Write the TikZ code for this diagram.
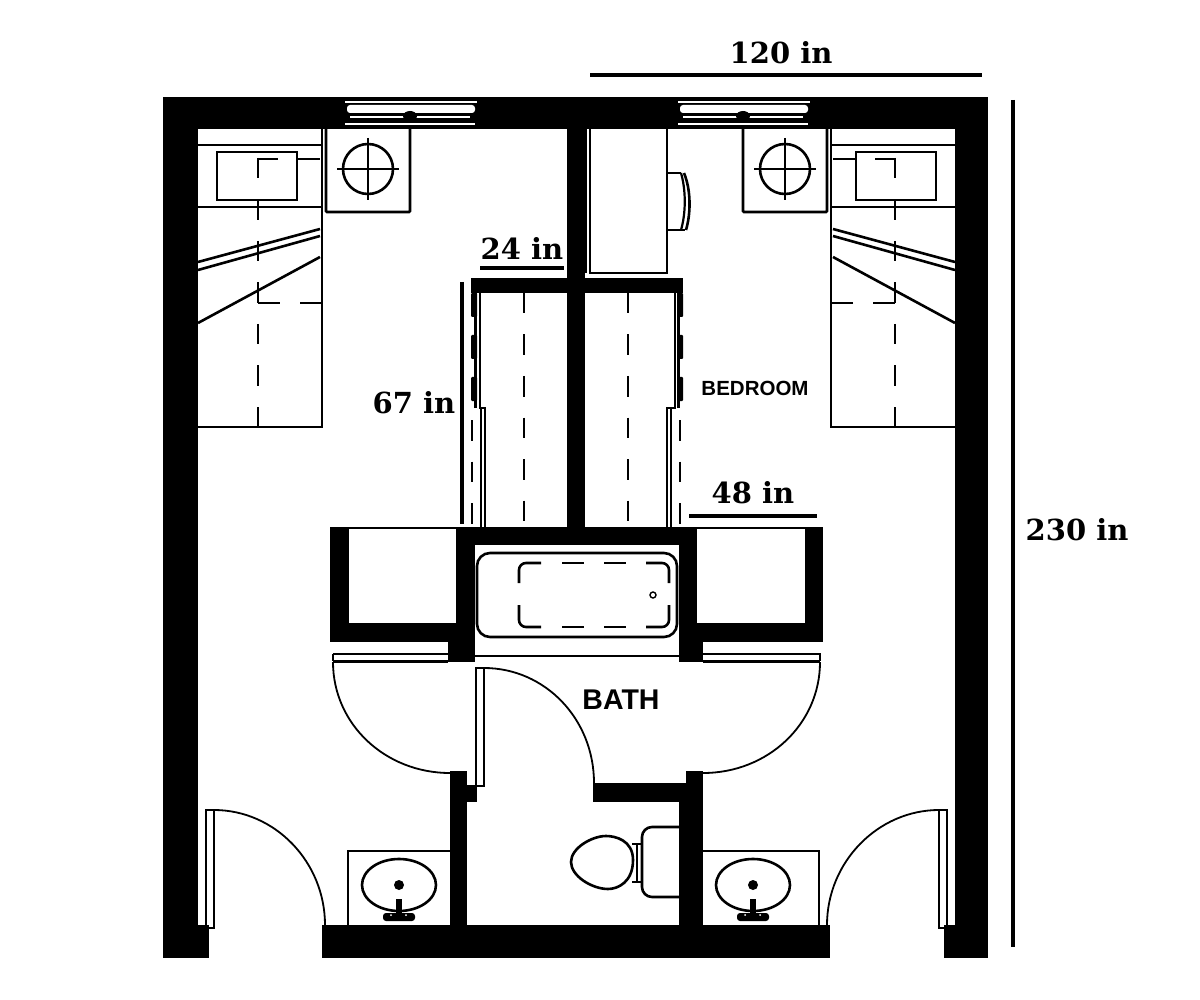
\documentclass[tikz,border=0pt]{standalone}
\usepackage{fontspec}
\setmainfont{Liberation Sans}
\newfontfamily\dimfont{DejaVu Serif}

\tikzset{
    wall/.style={fill=black,draw=none},
    thinline/.style={line width=2.2pt},
    fixture/.style={line width=2.6pt},
    doorline/.style={line width=1.8pt},
    hidden/.style={line width=2.6pt,dash pattern=on 20.5pt off 21pt},
    dimline/.style={line width=3.4pt},
    dimtext/.style={font=\dimfont\bfseries\fontsize{29}{29}\selectfont},
    roomtext/.style={font=\bfseries}
}

\begin{document}
\begin{tikzpicture}[x=1pt,y=-1pt]
    \useasboundingbox (0,0) rectangle (1200,1000);
    \fill[white] (0,0) rectangle (1200,1000);

    % outer walls
    \fill[wall] (163,97) rectangle (988,129);
    \fill[wall] (163,97) rectangle (198,958);
    \fill[wall] (163,925) rectangle (209,958);
    \fill[wall] (955,97) rectangle (988,958);
    \fill[wall] (944,925) rectangle (988,958);
    \fill[wall] (322,925) rectangle (830,958);

    % windows, left then right
    \foreach \w in {0,333}{
        \fill[white] (345+\w,101) rectangle (477+\w,103);
        \fill[white,rounded corners=3pt] (347+\w,105) rectangle (475+\w,113);
        \fill[white] (350+\w,116) rectangle (470+\w,118);
        \fill[white] (345+\w,123) rectangle (475+\w,125);
        \fill[black] (410+\w,116) ellipse (7 and 5);
    }

    % closet walls
    \fill[wall] (567,129) rectangle (585,527);
    \fill[wall] (471,278) rectangle (683,293);
    \foreach \y in {293,335,377}{
        \fill[wall,rounded corners=1pt] (471,\y) rectangle (477,\y+24);
        \fill[wall,rounded corners=1pt] (677,\y) rectangle (683,\y+24);
    }
    \draw[line width=3.5pt] (475.5,293)--(475.5,408);
    \draw[thinline] (480,293)--(480,408)--(485,408)--(485,527);
    \draw[thinline] (481,408)--(481,527);
    \draw[thinline] (675,293)--(675,408)--(667,408)--(667,527);
    \draw[thinline] (671,408)--(671,527);
    \draw[line width=3pt] (678.5,293)--(678.5,408);
    \draw[hidden] (472,420)--(472,527);
    \draw[hidden] (680,420)--(680,527);
    \draw[hidden] (524,293)--(524,527);
    \draw[hidden] (628,293)--(628,527);

    % bath block
    \fill[wall] (330,527) rectangle (823,642);
    \fill[white] (349,529) rectangle (456,623);
    \fill[white] (697,529) rectangle (805,623);
    \fill[white] (475,545) rectangle (679,662);
    \fill[wall] (448,642) rectangle (475,662);
    \fill[wall] (679,642) rectangle (703,662);
    \draw[thinline] (475,656)--(679,656);

    % tub
    \draw[fixture,rounded corners=13pt] (477,553) rectangle (677,637);
    \draw[fixture,rounded corners=7pt] (519,583)--(519,563)--(541,563);
    \draw[fixture,rounded corners=7pt] (646,563)--(669,563)--(669,583);
    \draw[fixture,rounded corners=7pt] (669,605)--(669,627)--(646,627);
    \draw[fixture,rounded corners=7pt] (541,627)--(519,627)--(519,605);
    \foreach \x in {562,604}{
        \draw[fixture] (\x,563)--(\x+22,563);
        \draw[fixture] (\x,627)--(\x+22,627);
    }
    \draw[line width=1.4pt] (653,595) circle (3);

    % door strips by the closets
    \draw[thinline] (333,654)--(448,654);
    \draw[line width=3pt] (333,661)--(448,661);
    \draw[thinline] (333,654)--(333,661);
    \draw[thinline] (703,654)--(820,654)--(820,661);
    \draw[line width=3pt] (703,661)--(820,661);

    % bath walls
    \fill[wall] (450,771) rectangle (467,925);
    \fill[wall] (467,785) rectangle (477,802);
    \fill[wall] (593,783) rectangle (687,802);
    \fill[wall] (686,771) rectangle (703,802);
    \fill[wall] (679,802) rectangle (703,925);

    % doors
    \draw[thinline] (476,668) rectangle (484,786);
    \draw[doorline] (484,668) .. controls (545,668) and (594,719) .. (594,783);
    \draw[doorline] (333,662) .. controls (333,724) and (385,773) .. (450,773);
    \draw[doorline] (820,662) .. controls (820,724) and (768,773) .. (703,773);
    \draw[thinline] (206,810) rectangle (214,928);
    \draw[doorline] (214,810) .. controls (275,810) and (325,862) .. (325,925);
    \draw[thinline] (939,810) rectangle (947,928);
    \draw[doorline] (939,810) .. controls (878,810) and (827,862) .. (827,925);

    % beds and nightstands, right side is the mirror of the left
    \foreach \s/\c in {1/0,-1/1153}{
        \begin{scope}[shift={(\c,0)},xscale=\s]
            \draw[fixture] (198,427)--(322,427)--(322,129);
            \draw[fixture] (198,145)--(322,145);
            \draw[fixture] (198,207)--(322,207);
            \draw[fixture] (217,152) rectangle (297,200);
            \draw[fixture] (297,159)--(320,159);
            \draw[fixture] (198,262)--(320,229);
            \draw[fixture] (198,270)--(320,236);
            \draw[fixture] (198,323)--(320,257);
            \draw[hidden] (258,158)--(258,427);
            \draw[fixture] (258,159)--(278,159);
            \draw[fixture] (258,303)--(280,303);
            \draw[fixture] (300,303)--(322,303);
            \draw[fixture,rounded corners=1pt] (326,129)--(326,212)--(410,212)--(410,129);
            \draw[fixture] (368,169) circle (25);
            \draw[fixture] (337,169)--(399,169);
            \draw[fixture] (368,138)--(368,200);
        \end{scope}
    }

    % desk and chair
    \draw[thinline] (586,129)--(586,273);
    \draw[fixture] (590,129)--(590,273)--(667,273)--(667,129);
    \draw[fixture] (667,173)--(681,173);
    \draw[fixture] (667,230)--(685,230);
    \draw[thinline] (681,173) .. controls (686,190) and (686,213) .. (681,230);
    \draw[fixture] (684,173) .. controls (691,190) and (691,213) .. (686,230);

    % sinks
    \draw[fixture] (348,925)--(348,851)--(450,851);
    \draw[fixture] (703,851)--(819,851)--(819,925);
    \foreach \x in {399,753}{
        \draw[fixture] (\x,885) ellipse (37 and 26);
        \fill (\x,885) circle (5);
        \fill (\x-3,899) rectangle (\x+3,915);
        \fill[rounded corners=3pt] (\x-16,913) rectangle (\x+16,921);
        \fill[white] (\x-8,915) circle (1);
        \fill[white] (\x+7,915) circle (1);
    }

    % toilet
    \draw[fixture,rounded corners=10pt] (679,827)--(642,827)--(642,897)--(679,897);
    \draw[thinline] (632,844)--(642,844)--(642,882)--(632,882);
    \draw[line width=1.4pt] (637,844)--(637,882);
    \draw[fixture,fill=white] (633,860) .. controls (633,840) and (615,836) .. (606,836)
        .. controls (592,836) and (571,848) .. (571,862)
        .. controls (571,876) and (592,889) .. (608,889)
        .. controls (618,889) and (633,882) .. (633,860);

    % dimensions
    \draw[dimline] (590,75)--(982,75);
    \draw[dimline] (1013,100)--(1013,947);
    \draw[dimline] (462,282)--(462,524);
    \draw[dimline] (480,268)--(564,268);
    \draw[dimline] (689,516)--(817,516);
    \node[dimtext] (widthlabel) at (781,53) {120 in};
    \node[dimtext] (lengthlabel) at (1077,530) {230 in};
    \node[dimtext] (closetlabel) at (414,403) {67 in};
    \node[dimtext] (walllabel) at (522,248) {24 in};
    \node[dimtext] (doorlabel) at (753,493) {48 in};

    % room names
    \node[roomtext,font=\bfseries\fontsize{20.5}{20.5}\selectfont] (bedroomlabel) at (755,388) {BEDROOM};
    \node[roomtext,font=\bfseries\fontsize{28.5}{28.5}\selectfont] (bathlabel) at (621,700) {BATH};
\end{tikzpicture}
\end{document}
